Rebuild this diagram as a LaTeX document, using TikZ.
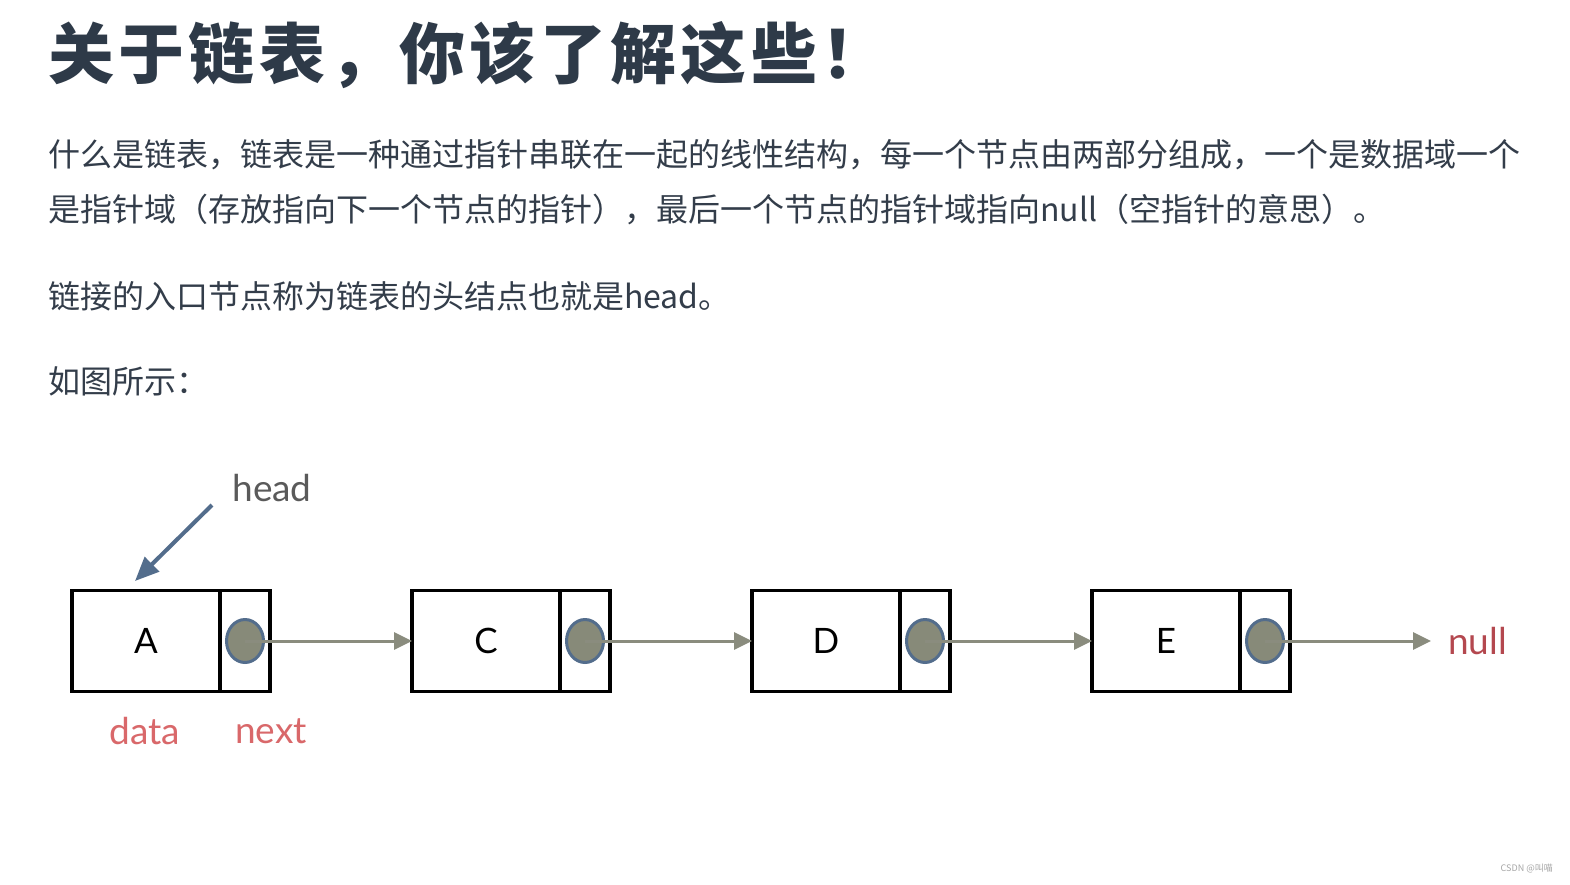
\documentclass[tikz,border=0pt]{standalone}
\usepackage{fontspec}
\setmainfont{Lato}
\newfontfamily\cjk{Noto Sans CJK SC}
\newfontfamily\cjktitle{Noto Sans CJK SC}[LetterSpace=6.5]
\usetikzlibrary{arrows.meta,positioning,shapes.geometric}
\definecolor{titlecol}{HTML}{2E3A48}
\definecolor{textcol}{HTML}{333D4A}
\definecolor{ptrfill}{HTML}{878A79}
\definecolor{ptrdraw}{HTML}{536D8C}
\definecolor{linkcol}{HTML}{8A8C7E}
\definecolor{labcol}{HTML}{D9686A}
\definecolor{nullcol}{HTML}{B4484F}
\definecolor{headcol}{HTML}{5A5A5A}
\tikzset{
  title/.style  ={anchor=west, inner sep=0pt, text=titlecol,
                  font=\cjktitle\bfseries\fontsize{66}{70}\selectfont},
  para/.style   ={anchor=west, inner sep=0pt, align=left, text=textcol,
                  font=\cjk\fontsize{32}{55}\selectfont},
  datbox/.style ={rectangle, draw=black, line width=3.5pt, minimum width=148pt,
                  minimum height=101pt, inner sep=0pt, outer sep=0pt,
                  font=\fontsize{35}{36}\selectfont},
  nxtbox/.style ={rectangle, draw=black, line width=3.5pt, minimum width=50pt,
                  minimum height=101pt, inner sep=0pt, outer sep=0pt},
  ptr/.style    ={ellipse, fill=ptrfill, draw=ptrdraw, line width=3pt,
                  minimum width=37pt, minimum height=43pt, inner sep=0pt},
  lab/.style    ={inner sep=0pt, text=labcol, font=\fontsize{37}{38}\selectfont},
  link/.style   ={-{Triangle[length=18pt,width=17pt]}, line width=3pt, draw=linkcol},
  hd/.style     ={-{Triangle[length=24pt,width=20pt]}, line width=4pt, draw=ptrdraw},
}

\begin{document}
\begin{tikzpicture}[x=1pt,y=-1pt]
\useasboundingbox[fill=white] (0,0) rectangle (1570,884);

\node[title] (ttl) at (48,55) {关于链表，你该了解这些！};
\node[para] (p1) at (48,182) {什么是链表，链表是一种通过指针串联在一起的线性结构，每一个节点由两部分组成，一个是数据域一个\\
是指针域（存放指向下一个节点的指针），最后一个节点的指针域指向null（空指针的意思）。};
\node[para] (p2) at (48,296) {链接的入口节点称为链表的头结点也就是head。};
\node[para] (p3) at (48,381) {如图所示：};

% list nodes
\node[datbox] (A) at (146,641) {A};
\node[nxtbox, right=0pt of A] (An) {};
\node[datbox, right=142pt of An] (C) {C};
\node[nxtbox, right=0pt of C] (Cn) {};
\node[datbox, right=142pt of Cn] (D) {D};
\node[nxtbox, right=0pt of D] (Dn) {};
\node[datbox, right=142pt of Dn] (E) {E};
\node[nxtbox, right=0pt of E] (En) {};

\foreach \n in {An,Cn,Dn,En}
  \node[ptr] (\n p) at (\n.center) {};

\node[inner sep=0pt, text=nullcol, font=\fontsize{37}{38}\selectfont, anchor=west]
  (nul) at (1448,641) {null};
\coordinate (nulend) at (1431,641);

\draw[link] (Anp.center) -- (C.west);
\draw[link] (Cnp.center) -- (D.west);
\draw[link] (Dnp.center) -- (E.west);
\draw[link] (Enp.center) -- (nulend);

% head pointer
\node[inner sep=0pt, text=headcol, font=\fontsize{37}{38}\selectfont] (hd) at (272,488) {head};
\coordinate (hdtail) at (212,505);
\coordinate (hdtip) at (135,581);
\draw[hd] (hdtail) -- (hdtip);

\node[lab] (dat) at (145,731) {data};
\node[lab] (nxt) at (271,731) {next};

\node[inner sep=0pt, text=gray!70, font=\cjk\fontsize{9}{10}\selectfont, anchor=east]
  (wm) at (1553,869) {CSDN @叫喵};
\end{tikzpicture}
\end{document}
